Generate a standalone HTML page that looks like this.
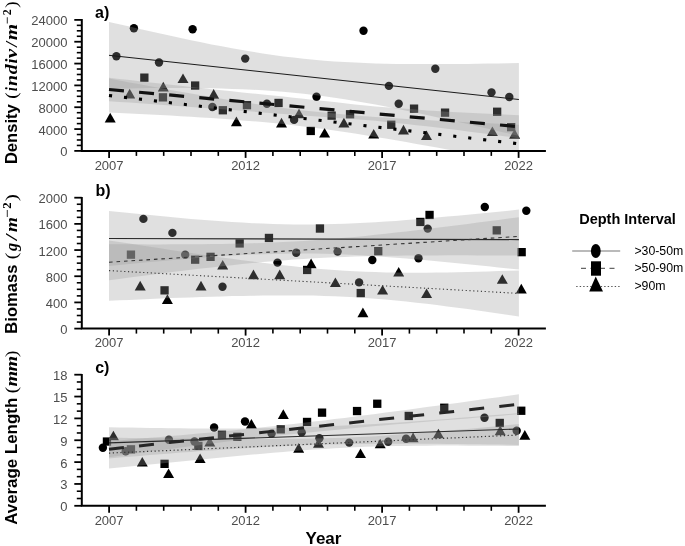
<!DOCTYPE html><html><head><meta charset="utf-8"><style>html,body{margin:0;padding:0;background:#fff;}svg{display:block;}.tk{font-family:"Liberation Sans",Arial,sans-serif;font-size:13px;fill:#4d4d4d;}.pl{font-family:"Liberation Sans",Arial,sans-serif;font-size:16px;font-weight:bold;fill:#000;}.ti{font-family:"Liberation Sans",Arial,sans-serif;font-size:15px;font-weight:bold;fill:#000;}.mi{font-family:"Liberation Serif",serif;font-style:italic;font-weight:bold;}.lg{font-family:"Liberation Sans",Arial,sans-serif;font-size:12.3px;fill:#000;}</style></head><body>
<svg width="685" height="546" viewBox="0 0 685 546">
<rect width="685" height="546" fill="#fff"/>
<clipPath id="cla"><rect x="81.8" y="7.9" width="464.1" height="142.2"/></clipPath>
<g clip-path="url(#cla)">
<circle cx="116.4" cy="56.3" r="4.2" fill="#000"/>
<circle cx="133.9" cy="28.3" r="4.2" fill="#000"/>
<circle cx="159.0" cy="62.5" r="4.2" fill="#000"/>
<circle cx="192.6" cy="29.2" r="4.2" fill="#000"/>
<circle cx="212.4" cy="107.0" r="4.2" fill="#000"/>
<circle cx="245.2" cy="58.6" r="4.2" fill="#000"/>
<circle cx="266.9" cy="103.8" r="4.2" fill="#000"/>
<circle cx="294.1" cy="119.9" r="4.2" fill="#000"/>
<circle cx="316.5" cy="96.8" r="4.2" fill="#000"/>
<circle cx="363.5" cy="30.7" r="4.2" fill="#000"/>
<circle cx="388.9" cy="85.9" r="4.2" fill="#000"/>
<circle cx="398.7" cy="103.8" r="4.2" fill="#000"/>
<circle cx="435.3" cy="68.7" r="4.2" fill="#000"/>
<circle cx="491.5" cy="92.4" r="4.2" fill="#000"/>
<circle cx="509.3" cy="97.0" r="4.2" fill="#000"/>
<rect x="140.2" y="73.5" width="8.3" height="8.3" fill="#000"/>
<rect x="191.0" y="81.4" width="8.3" height="8.3" fill="#000"/>
<rect x="158.8" y="93.2" width="8.3" height="8.3" fill="#000"/>
<rect x="218.7" y="106.1" width="8.3" height="8.3" fill="#000"/>
<rect x="242.8" y="101.0" width="8.3" height="8.3" fill="#000"/>
<rect x="274.4" y="98.8" width="8.3" height="8.3" fill="#000"/>
<rect x="306.6" y="126.8" width="8.3" height="8.3" fill="#000"/>
<rect x="327.5" y="111.5" width="8.3" height="8.3" fill="#000"/>
<rect x="345.9" y="110.1" width="8.3" height="8.3" fill="#000"/>
<rect x="387.1" y="120.6" width="8.3" height="8.3" fill="#000"/>
<rect x="409.9" y="104.5" width="8.3" height="8.3" fill="#000"/>
<rect x="440.9" y="108.5" width="8.3" height="8.3" fill="#000"/>
<rect x="493.0" y="107.6" width="8.3" height="8.3" fill="#000"/>
<rect x="507.0" y="123.0" width="8.3" height="8.3" fill="#000"/>
<path d="M110.2,112.8L115.7,122.4L104.7,122.4Z" fill="#000"/>
<path d="M129.7,88.8L135.2,98.4L124.2,98.4Z" fill="#000"/>
<path d="M163.3,81.8L168.8,91.4L157.8,91.4Z" fill="#000"/>
<path d="M183.0,73.4L188.5,83.0L177.5,83.0Z" fill="#000"/>
<path d="M213.7,89.1L219.2,98.7L208.2,98.7Z" fill="#000"/>
<path d="M236.4,116.6L241.9,126.2L230.9,126.2Z" fill="#000"/>
<path d="M281.5,117.8L287.0,127.4L276.0,127.4Z" fill="#000"/>
<path d="M299.0,108.7L304.5,118.3L293.5,118.3Z" fill="#000"/>
<path d="M324.6,128.0L330.1,137.6L319.1,137.6Z" fill="#000"/>
<path d="M343.9,117.8L349.4,127.4L338.4,127.4Z" fill="#000"/>
<path d="M373.7,128.9L379.2,138.5L368.2,138.5Z" fill="#000"/>
<path d="M403.5,124.8L409.0,134.4L398.0,134.4Z" fill="#000"/>
<path d="M426.5,130.4L432.0,140.0L421.0,140.0Z" fill="#000"/>
<path d="M492.4,126.4L497.9,136.0L486.9,136.0Z" fill="#000"/>
<path d="M514.6,129.1L520.1,138.7L509.1,138.7Z" fill="#000"/>
<path d="M109.0,21.9 L119.2,24.3 L129.5,26.6 L139.7,29.0 L150.0,31.3 L160.2,33.6 L170.5,35.8 L180.7,38.0 L191.0,40.2 L201.2,42.3 L211.5,44.4 L221.7,46.3 L232.0,48.3 L242.2,50.1 L252.5,51.8 L262.7,53.4 L273.0,55.0 L283.2,56.4 L293.5,57.6 L303.7,58.8 L313.9,59.8 L324.2,60.7 L334.4,61.5 L344.7,62.1 L354.9,62.6 L365.2,63.1 L375.4,63.4 L385.7,63.7 L395.9,63.9 L406.2,64.0 L416.4,64.1 L426.7,64.1 L436.9,64.1 L447.2,64.1 L457.4,64.0 L467.7,63.9 L477.9,63.8 L488.2,63.6 L498.4,63.4 L508.7,63.2 L518.9,63.0 L518.9,136.0 L508.7,133.6 L498.4,131.2 L488.2,128.8 L477.9,126.4 L467.7,124.1 L457.4,121.7 L447.2,119.4 L436.9,117.2 L426.7,115.0 L416.4,112.8 L406.2,110.7 L395.9,108.6 L385.7,106.6 L375.4,104.6 L365.2,102.8 L354.9,101.0 L344.7,99.3 L334.4,97.8 L324.2,96.3 L313.9,95.0 L303.7,93.8 L293.5,92.7 L283.2,91.8 L273.0,91.0 L262.7,90.3 L252.5,89.7 L242.2,89.2 L232.0,88.9 L221.7,88.6 L211.5,88.3 L201.2,88.2 L191.0,88.1 L180.7,88.0 L170.5,88.0 L160.2,88.1 L150.0,88.1 L139.7,88.2 L129.5,88.4 L119.2,88.5 L109.0,88.7Z" fill="#999999" fill-opacity="0.30"/>
<path d="M109.0,77.8 L119.2,78.9 L129.5,80.1 L139.7,81.2 L150.0,82.4 L160.2,83.5 L170.5,84.7 L180.7,85.8 L191.0,87.0 L201.2,88.1 L211.5,89.2 L221.7,90.2 L232.0,91.3 L242.2,92.4 L252.5,93.4 L262.7,94.5 L273.0,95.6 L283.2,96.6 L293.5,97.7 L303.7,98.8 L313.9,99.9 L324.2,100.9 L334.4,102.1 L344.7,103.3 L354.9,104.4 L365.2,105.6 L375.4,106.6 L385.7,107.3 L395.9,108.1 L406.2,108.8 L416.4,109.6 L426.7,110.4 L436.9,111.1 L447.2,111.7 L457.4,112.2 L467.7,112.7 L477.9,113.2 L488.2,113.7 L498.4,114.2 L508.7,114.7 L518.9,115.2 L518.9,138.2 L508.7,136.8 L498.4,135.5 L488.2,134.1 L477.9,132.8 L467.7,131.4 L457.4,130.0 L447.2,128.7 L436.9,127.4 L426.7,126.3 L416.4,125.2 L406.2,124.1 L395.9,123.0 L385.7,121.9 L375.4,120.8 L365.2,119.9 L354.9,119.2 L344.7,118.5 L334.4,117.8 L324.2,117.1 L313.9,116.3 L303.7,115.5 L293.5,114.8 L283.2,114.0 L273.0,113.2 L262.7,112.4 L252.5,111.6 L242.2,110.8 L232.0,110.0 L221.7,109.2 L211.5,108.4 L201.2,107.7 L191.0,106.9 L180.7,106.2 L170.5,105.5 L160.2,104.8 L150.0,104.1 L139.7,103.3 L129.5,102.6 L119.2,101.9 L109.0,101.2Z" fill="#999999" fill-opacity="0.30"/>
<path d="M109.0,78.6 L119.2,80.5 L129.5,82.4 L139.7,84.3 L150.0,86.2 L160.2,88.0 L170.5,89.9 L180.7,91.7 L191.0,93.5 L201.2,95.3 L211.5,97.0 L221.7,98.8 L232.0,100.4 L242.2,102.0 L252.5,103.6 L262.7,105.1 L273.0,106.6 L283.2,107.9 L293.5,109.2 L303.7,110.4 L313.9,111.6 L324.2,112.6 L334.4,113.6 L344.7,114.5 L354.9,115.4 L365.2,116.2 L375.4,116.9 L385.7,117.6 L395.9,118.3 L406.2,118.9 L416.4,119.5 L426.7,120.1 L436.9,120.7 L447.2,121.2 L457.4,121.8 L467.7,122.3 L477.9,122.8 L488.2,123.3 L498.4,123.8 L508.7,124.3 L518.9,124.8 L518.9,162.8 L508.7,160.9 L498.4,158.9 L488.2,157.0 L477.9,155.1 L467.7,153.2 L457.4,151.3 L447.2,149.4 L436.9,147.6 L426.7,145.7 L416.4,143.9 L406.2,142.1 L395.9,140.3 L385.7,138.6 L375.4,136.9 L365.2,135.2 L354.9,133.6 L344.7,132.0 L334.4,130.5 L324.2,129.1 L313.9,127.7 L303.7,126.5 L293.5,125.2 L283.2,124.1 L273.0,123.1 L262.7,122.1 L252.5,121.2 L242.2,120.4 L232.0,119.6 L221.7,118.8 L211.5,118.1 L201.2,117.4 L191.0,116.8 L180.7,116.2 L170.5,115.6 L160.2,115.0 L150.0,114.5 L139.7,113.9 L129.5,113.4 L119.2,112.9 L109.0,112.4Z" fill="#999999" fill-opacity="0.30"/>
<line x1="109.0" y1="55.3" x2="518.9" y2="99.5" stroke="#1a1a1a" stroke-width="1.0"/>
<line x1="109.0" y1="89.5" x2="518.9" y2="126.7" stroke="#111" stroke-width="3.2" stroke-dasharray="15 15.2"/>
<line x1="109.0" y1="95.5" x2="518.9" y2="143.8" stroke="#000" stroke-width="3.1" stroke-dasharray="3.1 11.97"/>
</g>
<path d="M81.8,19.1V150.9H545.9" fill="none" stroke="#000" stroke-width="2"/>
<line x1="74.3" y1="150.90" x2="81.8" y2="150.90" stroke="#000" stroke-width="1.8"/>
<text class="tk" x="67.4" y="156.3" text-anchor="end">0</text>
<line x1="76.8" y1="145.44" x2="81.8" y2="145.44" stroke="#000" stroke-width="1.6"/>
<line x1="76.8" y1="139.98" x2="81.8" y2="139.98" stroke="#000" stroke-width="1.6"/>
<line x1="76.8" y1="134.53" x2="81.8" y2="134.53" stroke="#000" stroke-width="1.6"/>
<line x1="74.3" y1="129.07" x2="81.8" y2="129.07" stroke="#000" stroke-width="1.8"/>
<text class="tk" x="67.4" y="134.5" text-anchor="end">4000</text>
<line x1="76.8" y1="123.61" x2="81.8" y2="123.61" stroke="#000" stroke-width="1.6"/>
<line x1="76.8" y1="118.15" x2="81.8" y2="118.15" stroke="#000" stroke-width="1.6"/>
<line x1="76.8" y1="112.69" x2="81.8" y2="112.69" stroke="#000" stroke-width="1.6"/>
<line x1="74.3" y1="107.23" x2="81.8" y2="107.23" stroke="#000" stroke-width="1.8"/>
<text class="tk" x="67.4" y="112.6" text-anchor="end">8000</text>
<line x1="76.8" y1="101.78" x2="81.8" y2="101.78" stroke="#000" stroke-width="1.6"/>
<line x1="76.8" y1="96.32" x2="81.8" y2="96.32" stroke="#000" stroke-width="1.6"/>
<line x1="76.8" y1="90.86" x2="81.8" y2="90.86" stroke="#000" stroke-width="1.6"/>
<line x1="74.3" y1="85.40" x2="81.8" y2="85.40" stroke="#000" stroke-width="1.8"/>
<text class="tk" x="67.4" y="90.8" text-anchor="end">12000</text>
<line x1="76.8" y1="79.94" x2="81.8" y2="79.94" stroke="#000" stroke-width="1.6"/>
<line x1="76.8" y1="74.48" x2="81.8" y2="74.48" stroke="#000" stroke-width="1.6"/>
<line x1="76.8" y1="69.03" x2="81.8" y2="69.03" stroke="#000" stroke-width="1.6"/>
<line x1="74.3" y1="63.57" x2="81.8" y2="63.57" stroke="#000" stroke-width="1.8"/>
<text class="tk" x="67.4" y="69.0" text-anchor="end">16000</text>
<line x1="76.8" y1="58.11" x2="81.8" y2="58.11" stroke="#000" stroke-width="1.6"/>
<line x1="76.8" y1="52.65" x2="81.8" y2="52.65" stroke="#000" stroke-width="1.6"/>
<line x1="76.8" y1="47.19" x2="81.8" y2="47.19" stroke="#000" stroke-width="1.6"/>
<line x1="74.3" y1="41.73" x2="81.8" y2="41.73" stroke="#000" stroke-width="1.8"/>
<text class="tk" x="67.4" y="47.1" text-anchor="end">20000</text>
<line x1="76.8" y1="36.28" x2="81.8" y2="36.28" stroke="#000" stroke-width="1.6"/>
<line x1="76.8" y1="30.82" x2="81.8" y2="30.82" stroke="#000" stroke-width="1.6"/>
<line x1="76.8" y1="25.36" x2="81.8" y2="25.36" stroke="#000" stroke-width="1.6"/>
<line x1="74.3" y1="19.90" x2="81.8" y2="19.90" stroke="#000" stroke-width="1.8"/>
<text class="tk" x="67.4" y="25.3" text-anchor="end">24000</text>
<line x1="109.10" y1="150.9" x2="109.10" y2="157.9" stroke="#000" stroke-width="1.8"/>
<text class="tk" x="109.10" y="169.7" text-anchor="middle">2007</text>
<line x1="136.40" y1="150.9" x2="136.40" y2="155.9" stroke="#000" stroke-width="1.6"/>
<line x1="163.70" y1="150.9" x2="163.70" y2="155.9" stroke="#000" stroke-width="1.6"/>
<line x1="191.00" y1="150.9" x2="191.00" y2="155.9" stroke="#000" stroke-width="1.6"/>
<line x1="218.30" y1="150.9" x2="218.30" y2="155.9" stroke="#000" stroke-width="1.6"/>
<line x1="245.60" y1="150.9" x2="245.60" y2="157.9" stroke="#000" stroke-width="1.8"/>
<text class="tk" x="245.60" y="169.7" text-anchor="middle">2012</text>
<line x1="272.90" y1="150.9" x2="272.90" y2="155.9" stroke="#000" stroke-width="1.6"/>
<line x1="300.20" y1="150.9" x2="300.20" y2="155.9" stroke="#000" stroke-width="1.6"/>
<line x1="327.50" y1="150.9" x2="327.50" y2="155.9" stroke="#000" stroke-width="1.6"/>
<line x1="354.80" y1="150.9" x2="354.80" y2="155.9" stroke="#000" stroke-width="1.6"/>
<line x1="382.10" y1="150.9" x2="382.10" y2="157.9" stroke="#000" stroke-width="1.8"/>
<text class="tk" x="382.10" y="169.7" text-anchor="middle">2017</text>
<line x1="409.40" y1="150.9" x2="409.40" y2="155.9" stroke="#000" stroke-width="1.6"/>
<line x1="436.70" y1="150.9" x2="436.70" y2="155.9" stroke="#000" stroke-width="1.6"/>
<line x1="464.00" y1="150.9" x2="464.00" y2="155.9" stroke="#000" stroke-width="1.6"/>
<line x1="491.30" y1="150.9" x2="491.30" y2="155.9" stroke="#000" stroke-width="1.6"/>
<line x1="518.60" y1="150.9" x2="518.60" y2="157.9" stroke="#000" stroke-width="1.8"/>
<text class="tk" x="518.60" y="169.7" text-anchor="middle">2022</text>
<clipPath id="clb"><rect x="81.8" y="185.7" width="464.1" height="142.1"/></clipPath>
<g clip-path="url(#clb)">
<circle cx="143.4" cy="218.9" r="4.2" fill="#000"/>
<circle cx="172.4" cy="232.9" r="4.2" fill="#000"/>
<circle cx="185.2" cy="254.7" r="4.2" fill="#000"/>
<circle cx="222.5" cy="286.8" r="4.2" fill="#000"/>
<circle cx="277.5" cy="262.6" r="4.2" fill="#000"/>
<circle cx="296.2" cy="252.7" r="4.2" fill="#000"/>
<circle cx="337.6" cy="251.6" r="4.2" fill="#000"/>
<circle cx="359.1" cy="282.4" r="4.2" fill="#000"/>
<circle cx="372.3" cy="260.0" r="4.2" fill="#000"/>
<circle cx="418.5" cy="258.2" r="4.2" fill="#000"/>
<circle cx="427.7" cy="228.6" r="4.2" fill="#000"/>
<circle cx="484.8" cy="207.0" r="4.2" fill="#000"/>
<circle cx="526.3" cy="210.7" r="4.2" fill="#000"/>
<rect x="126.8" y="250.5" width="8.3" height="8.3" fill="#000"/>
<rect x="160.4" y="286.2" width="8.3" height="8.3" fill="#000"/>
<rect x="191.0" y="255.5" width="8.3" height="8.3" fill="#000"/>
<rect x="206.4" y="252.7" width="8.3" height="8.3" fill="#000"/>
<rect x="235.5" y="239.3" width="8.3" height="8.3" fill="#000"/>
<rect x="264.8" y="233.8" width="8.3" height="8.3" fill="#000"/>
<rect x="303.0" y="265.8" width="8.3" height="8.3" fill="#000"/>
<rect x="315.8" y="224.4" width="8.3" height="8.3" fill="#000"/>
<rect x="356.6" y="288.9" width="8.3" height="8.3" fill="#000"/>
<rect x="374.1" y="247.0" width="8.3" height="8.3" fill="#000"/>
<rect x="416.2" y="217.8" width="8.3" height="8.3" fill="#000"/>
<rect x="425.4" y="210.8" width="8.3" height="8.3" fill="#000"/>
<rect x="492.6" y="226.2" width="8.3" height="8.3" fill="#000"/>
<rect x="517.5" y="248.0" width="8.3" height="8.3" fill="#000"/>
<path d="M140.2,280.8L145.7,290.4L134.7,290.4Z" fill="#000"/>
<path d="M167.4,294.3L172.9,303.9L161.9,303.9Z" fill="#000"/>
<path d="M201.0,280.8L206.5,290.4L195.5,290.4Z" fill="#000"/>
<path d="M222.7,259.9L228.2,269.5L217.2,269.5Z" fill="#000"/>
<path d="M253.5,269.6L259.0,279.2L248.0,279.2Z" fill="#000"/>
<path d="M279.7,269.6L285.2,279.2L274.2,279.2Z" fill="#000"/>
<path d="M311.1,258.6L316.6,268.2L305.6,268.2Z" fill="#000"/>
<path d="M335.4,277.5L340.9,287.1L329.9,287.1Z" fill="#000"/>
<path d="M362.9,307.6L368.4,317.2L357.4,317.2Z" fill="#000"/>
<path d="M382.6,284.9L388.1,294.5L377.1,294.5Z" fill="#000"/>
<path d="M398.7,266.9L404.2,276.5L393.2,276.5Z" fill="#000"/>
<path d="M426.6,288.5L432.1,298.1L421.1,298.1Z" fill="#000"/>
<path d="M502.3,274.2L507.8,283.8L496.8,283.8Z" fill="#000"/>
<path d="M521.3,283.8L526.8,293.4L515.8,293.4Z" fill="#000"/>
<path d="M109.0,210.9 L119.2,212.0 L129.5,213.0 L139.7,214.1 L150.0,215.1 L160.2,216.1 L170.5,217.1 L180.7,218.0 L191.0,218.9 L201.2,219.7 L211.5,220.5 L221.7,221.3 L232.0,222.0 L242.2,222.6 L252.5,223.2 L262.7,223.6 L273.0,224.0 L283.2,224.3 L293.5,224.5 L303.7,224.5 L313.9,224.5 L324.2,224.3 L334.4,224.1 L344.7,223.8 L354.9,223.3 L365.2,222.8 L375.4,222.2 L385.7,221.6 L395.9,220.9 L406.2,220.1 L416.4,219.3 L426.7,218.4 L436.9,217.6 L447.2,216.6 L457.4,215.7 L467.7,214.7 L477.9,213.7 L488.2,212.7 L498.4,211.7 L508.7,210.7 L518.9,209.6 L518.9,269.6 L508.7,268.5 L498.4,267.4 L488.2,266.3 L477.9,265.2 L467.7,264.2 L457.4,263.2 L447.2,262.2 L436.9,261.2 L426.7,260.3 L416.4,259.4 L406.2,258.5 L395.9,257.7 L385.7,256.9 L375.4,256.2 L365.2,255.6 L354.9,255.0 L344.7,254.5 L334.4,254.1 L324.2,253.8 L313.9,253.6 L303.7,253.5 L293.5,253.5 L283.2,253.7 L273.0,253.9 L262.7,254.2 L252.5,254.6 L242.2,255.1 L232.0,255.7 L221.7,256.3 L211.5,257.0 L201.2,257.8 L191.0,258.6 L180.7,259.4 L170.5,260.3 L160.2,261.2 L150.0,262.1 L139.7,263.1 L129.5,264.1 L119.2,265.1 L109.0,266.1Z" fill="#999999" fill-opacity="0.30"/>
<path d="M109.0,244.2 L119.2,244.3 L129.5,244.3 L139.7,244.3 L150.0,244.4 L160.2,244.4 L170.5,244.3 L180.7,244.3 L191.0,244.3 L201.2,244.2 L211.5,244.1 L221.7,243.9 L232.0,243.7 L242.2,243.5 L252.5,243.2 L262.7,242.9 L273.0,242.5 L283.2,242.1 L293.5,241.5 L303.7,240.9 L313.9,240.3 L324.2,239.5 L334.4,238.7 L344.7,237.8 L354.9,236.9 L365.2,235.9 L375.4,234.8 L385.7,233.8 L395.9,232.6 L406.2,231.4 L416.4,230.2 L426.7,229.0 L436.9,227.8 L447.2,226.5 L457.4,225.2 L467.7,223.9 L477.9,222.6 L488.2,221.3 L498.4,219.9 L508.7,218.6 L518.9,217.2 L518.9,255.6 L508.7,255.5 L498.4,255.5 L488.2,255.4 L477.9,255.4 L467.7,255.3 L457.4,255.3 L447.2,255.3 L436.9,255.4 L426.7,255.4 L416.4,255.5 L406.2,255.5 L395.9,255.7 L385.7,255.8 L375.4,256.0 L365.2,256.3 L354.9,256.5 L344.7,256.9 L334.4,257.3 L324.2,257.8 L313.9,258.3 L303.7,258.9 L293.5,259.6 L283.2,260.4 L273.0,261.2 L262.7,262.1 L252.5,263.1 L242.2,264.1 L232.0,265.2 L221.7,266.3 L211.5,267.4 L201.2,268.6 L191.0,269.8 L180.7,271.1 L170.5,272.3 L160.2,273.6 L150.0,274.9 L139.7,276.2 L129.5,277.5 L119.2,278.9 L109.0,280.2Z" fill="#999999" fill-opacity="0.30"/>
<path d="M109.0,240.4 L119.2,242.0 L129.5,243.6 L139.7,245.2 L150.0,246.8 L160.2,248.3 L170.5,249.9 L180.7,251.4 L191.0,252.9 L201.2,254.4 L211.5,255.9 L221.7,257.4 L232.0,258.8 L242.2,260.2 L252.5,261.5 L262.7,262.8 L273.0,264.0 L283.2,265.2 L293.5,266.3 L303.7,267.4 L313.9,268.4 L324.2,269.2 L334.4,270.0 L344.7,270.7 L354.9,271.3 L365.2,271.7 L375.4,272.1 L385.7,272.4 L395.9,272.6 L406.2,272.7 L416.4,272.7 L426.7,272.7 L436.9,272.6 L447.2,272.5 L457.4,272.3 L467.7,272.0 L477.9,271.8 L488.2,271.5 L498.4,271.1 L508.7,270.8 L518.9,270.4 L518.9,316.4 L508.7,314.9 L498.4,313.4 L488.2,311.9 L477.9,310.5 L467.7,309.1 L457.4,307.7 L447.2,306.4 L436.9,305.1 L426.7,303.8 L416.4,302.7 L406.2,301.6 L395.9,300.5 L385.7,299.6 L375.4,298.7 L365.2,298.0 L354.9,297.3 L344.7,296.7 L334.4,296.3 L324.2,295.9 L313.9,295.6 L303.7,295.5 L293.5,295.4 L283.2,295.4 L273.0,295.4 L262.7,295.5 L252.5,295.7 L242.2,295.9 L232.0,296.1 L221.7,296.4 L211.5,296.7 L201.2,297.0 L191.0,297.4 L180.7,297.8 L170.5,298.1 L160.2,298.6 L150.0,299.0 L139.7,299.4 L129.5,299.9 L119.2,300.3 L109.0,300.8Z" fill="#999999" fill-opacity="0.30"/>
<line x1="109.0" y1="238.5" x2="518.9" y2="239.6" stroke="#2a2a2a" stroke-width="1.1"/>
<line x1="109.0" y1="262.2" x2="518.9" y2="236.4" stroke="#333" stroke-width="1.1" stroke-dasharray="3.6 3.9"/>
<line x1="109.0" y1="270.6" x2="518.9" y2="293.4" stroke="#3a3a3a" stroke-width="1.1" stroke-dasharray="1.2 2.6"/>
</g>
<path d="M81.8,196.9V328.6H545.9" fill="none" stroke="#000" stroke-width="2"/>
<line x1="74.3" y1="328.60" x2="81.8" y2="328.60" stroke="#000" stroke-width="1.8"/>
<text class="tk" x="67.4" y="334.0" text-anchor="end">0</text>
<line x1="76.8" y1="322.06" x2="81.8" y2="322.06" stroke="#000" stroke-width="1.6"/>
<line x1="76.8" y1="315.51" x2="81.8" y2="315.51" stroke="#000" stroke-width="1.6"/>
<line x1="76.8" y1="308.97" x2="81.8" y2="308.97" stroke="#000" stroke-width="1.6"/>
<line x1="74.3" y1="302.42" x2="81.8" y2="302.42" stroke="#000" stroke-width="1.8"/>
<text class="tk" x="67.4" y="307.8" text-anchor="end">400</text>
<line x1="76.8" y1="295.88" x2="81.8" y2="295.88" stroke="#000" stroke-width="1.6"/>
<line x1="76.8" y1="289.33" x2="81.8" y2="289.33" stroke="#000" stroke-width="1.6"/>
<line x1="76.8" y1="282.79" x2="81.8" y2="282.79" stroke="#000" stroke-width="1.6"/>
<line x1="74.3" y1="276.24" x2="81.8" y2="276.24" stroke="#000" stroke-width="1.8"/>
<text class="tk" x="67.4" y="281.6" text-anchor="end">800</text>
<line x1="76.8" y1="269.69" x2="81.8" y2="269.69" stroke="#000" stroke-width="1.6"/>
<line x1="76.8" y1="263.15" x2="81.8" y2="263.15" stroke="#000" stroke-width="1.6"/>
<line x1="76.8" y1="256.61" x2="81.8" y2="256.61" stroke="#000" stroke-width="1.6"/>
<line x1="74.3" y1="250.06" x2="81.8" y2="250.06" stroke="#000" stroke-width="1.8"/>
<text class="tk" x="67.4" y="255.5" text-anchor="end">1200</text>
<line x1="76.8" y1="243.51" x2="81.8" y2="243.51" stroke="#000" stroke-width="1.6"/>
<line x1="76.8" y1="236.97" x2="81.8" y2="236.97" stroke="#000" stroke-width="1.6"/>
<line x1="76.8" y1="230.43" x2="81.8" y2="230.43" stroke="#000" stroke-width="1.6"/>
<line x1="74.3" y1="223.88" x2="81.8" y2="223.88" stroke="#000" stroke-width="1.8"/>
<text class="tk" x="67.4" y="229.3" text-anchor="end">1600</text>
<line x1="76.8" y1="217.33" x2="81.8" y2="217.33" stroke="#000" stroke-width="1.6"/>
<line x1="76.8" y1="210.79" x2="81.8" y2="210.79" stroke="#000" stroke-width="1.6"/>
<line x1="76.8" y1="204.25" x2="81.8" y2="204.25" stroke="#000" stroke-width="1.6"/>
<line x1="74.3" y1="197.70" x2="81.8" y2="197.70" stroke="#000" stroke-width="1.8"/>
<text class="tk" x="67.4" y="203.1" text-anchor="end">2000</text>
<line x1="109.10" y1="328.6" x2="109.10" y2="335.6" stroke="#000" stroke-width="1.8"/>
<text class="tk" x="109.10" y="347.4" text-anchor="middle">2007</text>
<line x1="136.40" y1="328.6" x2="136.40" y2="333.6" stroke="#000" stroke-width="1.6"/>
<line x1="163.70" y1="328.6" x2="163.70" y2="333.6" stroke="#000" stroke-width="1.6"/>
<line x1="191.00" y1="328.6" x2="191.00" y2="333.6" stroke="#000" stroke-width="1.6"/>
<line x1="218.30" y1="328.6" x2="218.30" y2="333.6" stroke="#000" stroke-width="1.6"/>
<line x1="245.60" y1="328.6" x2="245.60" y2="335.6" stroke="#000" stroke-width="1.8"/>
<text class="tk" x="245.60" y="347.4" text-anchor="middle">2012</text>
<line x1="272.90" y1="328.6" x2="272.90" y2="333.6" stroke="#000" stroke-width="1.6"/>
<line x1="300.20" y1="328.6" x2="300.20" y2="333.6" stroke="#000" stroke-width="1.6"/>
<line x1="327.50" y1="328.6" x2="327.50" y2="333.6" stroke="#000" stroke-width="1.6"/>
<line x1="354.80" y1="328.6" x2="354.80" y2="333.6" stroke="#000" stroke-width="1.6"/>
<line x1="382.10" y1="328.6" x2="382.10" y2="335.6" stroke="#000" stroke-width="1.8"/>
<text class="tk" x="382.10" y="347.4" text-anchor="middle">2017</text>
<line x1="409.40" y1="328.6" x2="409.40" y2="333.6" stroke="#000" stroke-width="1.6"/>
<line x1="436.70" y1="328.6" x2="436.70" y2="333.6" stroke="#000" stroke-width="1.6"/>
<line x1="464.00" y1="328.6" x2="464.00" y2="333.6" stroke="#000" stroke-width="1.6"/>
<line x1="491.30" y1="328.6" x2="491.30" y2="333.6" stroke="#000" stroke-width="1.6"/>
<line x1="518.60" y1="328.6" x2="518.60" y2="335.6" stroke="#000" stroke-width="1.8"/>
<text class="tk" x="518.60" y="347.4" text-anchor="middle">2022</text>
<clipPath id="clc"><rect x="81.8" y="362.7" width="464.1" height="142.3"/></clipPath>
<g clip-path="url(#clc)">
<circle cx="102.9" cy="447.7" r="4.2" fill="#000"/>
<circle cx="125.7" cy="451.2" r="4.2" fill="#000"/>
<circle cx="168.9" cy="439.8" r="4.2" fill="#000"/>
<circle cx="194.5" cy="441.5" r="4.2" fill="#000"/>
<circle cx="214.1" cy="427.5" r="4.2" fill="#000"/>
<circle cx="245.0" cy="421.5" r="4.2" fill="#000"/>
<circle cx="271.6" cy="433.6" r="4.2" fill="#000"/>
<circle cx="301.7" cy="432.4" r="4.2" fill="#000"/>
<circle cx="319.4" cy="438.2" r="4.2" fill="#000"/>
<circle cx="349.2" cy="442.6" r="4.2" fill="#000"/>
<circle cx="388.2" cy="441.7" r="4.2" fill="#000"/>
<circle cx="406.1" cy="438.7" r="4.2" fill="#000"/>
<circle cx="484.5" cy="417.7" r="4.2" fill="#000"/>
<circle cx="516.7" cy="430.8" r="4.2" fill="#000"/>
<rect x="102.8" y="437.4" width="8.3" height="8.3" fill="#000"/>
<rect x="126.8" y="445.2" width="8.3" height="8.3" fill="#000"/>
<rect x="160.4" y="459.7" width="8.3" height="8.3" fill="#000"/>
<rect x="194.2" y="441.8" width="8.3" height="8.3" fill="#000"/>
<rect x="217.8" y="430.6" width="8.3" height="8.3" fill="#000"/>
<rect x="233.2" y="432.7" width="8.3" height="8.3" fill="#000"/>
<rect x="276.6" y="425.2" width="8.3" height="8.3" fill="#000"/>
<rect x="302.9" y="417.8" width="8.3" height="8.3" fill="#000"/>
<rect x="317.9" y="408.5" width="8.3" height="8.3" fill="#000"/>
<rect x="352.9" y="406.9" width="8.3" height="8.3" fill="#000"/>
<rect x="373.1" y="399.6" width="8.3" height="8.3" fill="#000"/>
<rect x="404.6" y="411.8" width="8.3" height="8.3" fill="#000"/>
<rect x="440.1" y="403.6" width="8.3" height="8.3" fill="#000"/>
<rect x="495.6" y="418.8" width="8.3" height="8.3" fill="#000"/>
<rect x="517.1" y="406.6" width="8.3" height="8.3" fill="#000"/>
<path d="M113.4,430.7L118.9,440.3L107.9,440.3Z" fill="#000"/>
<path d="M142.3,457.0L147.8,466.6L136.8,466.6Z" fill="#000"/>
<path d="M168.6,468.4L174.1,478.0L163.1,478.0Z" fill="#000"/>
<path d="M200.1,453.4L205.6,463.0L194.6,463.0Z" fill="#000"/>
<path d="M209.8,436.8L215.3,446.4L204.3,446.4Z" fill="#000"/>
<path d="M251.4,418.9L256.9,428.5L245.9,428.5Z" fill="#000"/>
<path d="M283.3,409.3L288.8,418.9L277.8,418.9Z" fill="#000"/>
<path d="M298.7,443.1L304.2,452.7L293.2,452.7Z" fill="#000"/>
<path d="M318.5,438.2L324.0,447.8L313.0,447.8Z" fill="#000"/>
<path d="M360.5,448.4L366.0,458.0L355.0,458.0Z" fill="#000"/>
<path d="M380.2,438.7L385.7,448.3L374.7,448.3Z" fill="#000"/>
<path d="M413.1,432.6L418.6,442.2L407.6,442.2Z" fill="#000"/>
<path d="M438.4,428.7L443.9,438.3L432.9,438.3Z" fill="#000"/>
<path d="M500.2,425.6L505.7,435.2L494.7,435.2Z" fill="#000"/>
<path d="M524.8,430.1L530.3,439.7L519.3,439.7Z" fill="#000"/>
<path d="M109.0,427.3 L119.2,427.5 L129.5,427.6 L139.7,427.8 L150.0,427.9 L160.2,428.1 L170.5,428.2 L180.7,428.3 L191.0,428.4 L201.2,428.4 L211.5,428.5 L221.7,428.5 L232.0,428.5 L242.2,428.4 L252.5,428.3 L262.7,428.2 L273.0,428.0 L283.2,427.8 L293.5,427.6 L303.7,427.3 L313.9,426.9 L324.2,426.6 L334.4,426.1 L344.7,425.6 L354.9,425.1 L365.2,424.6 L375.4,424.0 L385.7,423.3 L395.9,422.7 L406.2,422.0 L416.4,421.2 L426.7,420.5 L436.9,419.7 L447.2,418.9 L457.4,418.1 L467.7,417.3 L477.9,416.5 L488.2,415.6 L498.4,414.8 L508.7,413.9 L518.9,413.0 L518.9,445.0 L508.7,444.8 L498.4,444.6 L488.2,444.5 L477.9,444.3 L467.7,444.2 L457.4,444.1 L447.2,443.9 L436.9,443.8 L426.7,443.8 L416.4,443.7 L406.2,443.7 L395.9,443.7 L385.7,443.7 L375.4,443.8 L365.2,443.9 L354.9,444.0 L344.7,444.2 L334.4,444.4 L324.2,444.6 L313.9,445.0 L303.7,445.3 L293.5,445.7 L283.2,446.2 L273.0,446.6 L262.7,447.2 L252.5,447.7 L242.2,448.4 L232.0,449.0 L221.7,449.7 L211.5,450.4 L201.2,451.1 L191.0,451.9 L180.7,452.6 L170.5,453.4 L160.2,454.2 L150.0,455.1 L139.7,455.9 L129.5,456.8 L119.2,457.6 L109.0,458.5Z" fill="#999999" fill-opacity="0.30"/>
<path d="M109.0,441.2 L119.2,440.4 L129.5,439.5 L139.7,438.7 L150.0,437.8 L160.2,436.9 L170.5,436.1 L180.7,435.2 L191.0,434.2 L201.2,433.3 L211.5,432.4 L221.7,431.4 L232.0,430.4 L242.2,429.4 L252.5,428.4 L262.7,427.3 L273.0,426.2 L283.2,425.1 L293.5,424.0 L303.7,422.8 L313.9,421.6 L324.2,420.4 L334.4,419.1 L344.7,417.9 L354.9,416.6 L365.2,415.3 L375.4,413.9 L385.7,412.6 L395.9,411.2 L406.2,409.9 L416.4,408.5 L426.7,407.1 L436.9,405.7 L447.2,404.3 L457.4,402.9 L467.7,401.5 L477.9,400.0 L488.2,398.6 L498.4,397.2 L508.7,395.7 L518.9,394.3 L518.9,414.3 L508.7,415.1 L498.4,415.9 L488.2,416.7 L477.9,417.5 L467.7,418.4 L457.4,419.2 L447.2,420.0 L436.9,420.8 L426.7,421.7 L416.4,422.5 L406.2,423.4 L395.9,424.3 L385.7,425.2 L375.4,426.1 L365.2,427.0 L354.9,427.9 L344.7,428.9 L334.4,429.9 L324.2,430.9 L313.9,431.9 L303.7,432.9 L293.5,434.0 L283.2,435.1 L273.0,436.2 L262.7,437.4 L252.5,438.6 L242.2,439.8 L232.0,441.0 L221.7,442.3 L211.5,443.6 L201.2,444.9 L191.0,446.2 L180.7,447.5 L170.5,448.9 L160.2,450.2 L150.0,451.6 L139.7,453.0 L129.5,454.4 L119.2,455.8 L109.0,457.2Z" fill="#999999" fill-opacity="0.30"/>
<path d="M109.0,437.7 L119.2,437.8 L129.5,437.9 L139.7,438.1 L150.0,438.2 L160.2,438.3 L170.5,438.4 L180.7,438.5 L191.0,438.6 L201.2,438.7 L211.5,438.7 L221.7,438.8 L232.0,438.9 L242.2,438.9 L252.5,438.9 L262.7,438.9 L273.0,438.9 L283.2,438.9 L293.5,438.8 L303.7,438.7 L313.9,438.5 L324.2,438.3 L334.4,438.0 L344.7,437.7 L354.9,437.2 L365.2,436.7 L375.4,436.2 L385.7,435.5 L395.9,434.8 L406.2,434.1 L416.4,433.3 L426.7,432.5 L436.9,431.6 L447.2,430.7 L457.4,429.8 L467.7,428.9 L477.9,427.9 L488.2,426.9 L498.4,426.0 L508.7,425.0 L518.9,424.0 L518.9,446.0 L508.7,445.9 L498.4,445.8 L488.2,445.8 L477.9,445.7 L467.7,445.7 L457.4,445.6 L447.2,445.6 L436.9,445.6 L426.7,445.7 L416.4,445.7 L406.2,445.9 L395.9,446.0 L385.7,446.2 L375.4,446.5 L365.2,446.8 L354.9,447.2 L344.7,447.7 L334.4,448.3 L324.2,448.9 L313.9,449.6 L303.7,450.3 L293.5,451.1 L283.2,451.9 L273.0,452.8 L262.7,453.7 L252.5,454.6 L242.2,455.5 L232.0,456.5 L221.7,457.4 L211.5,458.4 L201.2,459.4 L191.0,460.4 L180.7,461.4 L170.5,462.4 L160.2,463.4 L150.0,464.4 L139.7,465.4 L129.5,466.4 L119.2,467.5 L109.0,468.5Z" fill="#999999" fill-opacity="0.30"/>
<line x1="109.0" y1="442.9" x2="518.9" y2="429.0" stroke="#2a2a2a" stroke-width="1.1"/>
<line x1="109.0" y1="449.2" x2="518.9" y2="404.3" stroke="#262626" stroke-width="3.0" stroke-dasharray="15 15.2"/>
<line x1="109.0" y1="453.1" x2="518.9" y2="435.0" stroke="#333" stroke-width="1.2" stroke-dasharray="1.2 2.6"/>
</g>
<path d="M81.8,373.9V505.8H545.9" fill="none" stroke="#000" stroke-width="2"/>
<line x1="74.3" y1="505.80" x2="81.8" y2="505.80" stroke="#000" stroke-width="1.8"/>
<text class="tk" x="67.4" y="511.2" text-anchor="end">0</text>
<line x1="76.8" y1="498.52" x2="81.8" y2="498.52" stroke="#000" stroke-width="1.6"/>
<line x1="76.8" y1="491.23" x2="81.8" y2="491.23" stroke="#000" stroke-width="1.6"/>
<line x1="74.3" y1="483.95" x2="81.8" y2="483.95" stroke="#000" stroke-width="1.8"/>
<text class="tk" x="67.4" y="489.3" text-anchor="end">3</text>
<line x1="76.8" y1="476.67" x2="81.8" y2="476.67" stroke="#000" stroke-width="1.6"/>
<line x1="76.8" y1="469.38" x2="81.8" y2="469.38" stroke="#000" stroke-width="1.6"/>
<line x1="74.3" y1="462.10" x2="81.8" y2="462.10" stroke="#000" stroke-width="1.8"/>
<text class="tk" x="67.4" y="467.5" text-anchor="end">6</text>
<line x1="76.8" y1="454.82" x2="81.8" y2="454.82" stroke="#000" stroke-width="1.6"/>
<line x1="76.8" y1="447.53" x2="81.8" y2="447.53" stroke="#000" stroke-width="1.6"/>
<line x1="74.3" y1="440.25" x2="81.8" y2="440.25" stroke="#000" stroke-width="1.8"/>
<text class="tk" x="67.4" y="445.6" text-anchor="end">9</text>
<line x1="76.8" y1="432.97" x2="81.8" y2="432.97" stroke="#000" stroke-width="1.6"/>
<line x1="76.8" y1="425.68" x2="81.8" y2="425.68" stroke="#000" stroke-width="1.6"/>
<line x1="74.3" y1="418.40" x2="81.8" y2="418.40" stroke="#000" stroke-width="1.8"/>
<text class="tk" x="67.4" y="423.8" text-anchor="end">12</text>
<line x1="76.8" y1="411.12" x2="81.8" y2="411.12" stroke="#000" stroke-width="1.6"/>
<line x1="76.8" y1="403.83" x2="81.8" y2="403.83" stroke="#000" stroke-width="1.6"/>
<line x1="74.3" y1="396.55" x2="81.8" y2="396.55" stroke="#000" stroke-width="1.8"/>
<text class="tk" x="67.4" y="401.9" text-anchor="end">15</text>
<line x1="76.8" y1="389.27" x2="81.8" y2="389.27" stroke="#000" stroke-width="1.6"/>
<line x1="76.8" y1="381.98" x2="81.8" y2="381.98" stroke="#000" stroke-width="1.6"/>
<line x1="74.3" y1="374.70" x2="81.8" y2="374.70" stroke="#000" stroke-width="1.8"/>
<text class="tk" x="67.4" y="380.1" text-anchor="end">18</text>
<line x1="109.10" y1="505.8" x2="109.10" y2="512.8" stroke="#000" stroke-width="1.8"/>
<text class="tk" x="109.10" y="524.6" text-anchor="middle">2007</text>
<line x1="136.40" y1="505.8" x2="136.40" y2="510.8" stroke="#000" stroke-width="1.6"/>
<line x1="163.70" y1="505.8" x2="163.70" y2="510.8" stroke="#000" stroke-width="1.6"/>
<line x1="191.00" y1="505.8" x2="191.00" y2="510.8" stroke="#000" stroke-width="1.6"/>
<line x1="218.30" y1="505.8" x2="218.30" y2="510.8" stroke="#000" stroke-width="1.6"/>
<line x1="245.60" y1="505.8" x2="245.60" y2="512.8" stroke="#000" stroke-width="1.8"/>
<text class="tk" x="245.60" y="524.6" text-anchor="middle">2012</text>
<line x1="272.90" y1="505.8" x2="272.90" y2="510.8" stroke="#000" stroke-width="1.6"/>
<line x1="300.20" y1="505.8" x2="300.20" y2="510.8" stroke="#000" stroke-width="1.6"/>
<line x1="327.50" y1="505.8" x2="327.50" y2="510.8" stroke="#000" stroke-width="1.6"/>
<line x1="354.80" y1="505.8" x2="354.80" y2="510.8" stroke="#000" stroke-width="1.6"/>
<line x1="382.10" y1="505.8" x2="382.10" y2="512.8" stroke="#000" stroke-width="1.8"/>
<text class="tk" x="382.10" y="524.6" text-anchor="middle">2017</text>
<line x1="409.40" y1="505.8" x2="409.40" y2="510.8" stroke="#000" stroke-width="1.6"/>
<line x1="436.70" y1="505.8" x2="436.70" y2="510.8" stroke="#000" stroke-width="1.6"/>
<line x1="464.00" y1="505.8" x2="464.00" y2="510.8" stroke="#000" stroke-width="1.6"/>
<line x1="491.30" y1="505.8" x2="491.30" y2="510.8" stroke="#000" stroke-width="1.6"/>
<line x1="518.60" y1="505.8" x2="518.60" y2="512.8" stroke="#000" stroke-width="1.8"/>
<text class="tk" x="518.60" y="524.6" text-anchor="middle">2022</text>
<text class="pl" x="95.1" y="17.6">a)</text>
<text class="pl" x="95.6" y="195.6">b)</text>
<text class="pl" x="95.2" y="373.3">c)</text>
<text class="ti" style="font-size:16.6px" transform="translate(16.90,164.11) rotate(-90)">Density</text>
<text style="font-family:'Liberation Serif',serif;font-weight:normal;font-style:normal;font-size:17.5px" transform="translate(17.40,98.66) rotate(-90) scale(1.112,1)">(</text>
<text style="font-family:'Liberation Serif',serif;font-weight:bold;font-style:italic;font-size:16.3px" transform="translate(16.80,91.05) rotate(-90) scale(0.841,1)">i</text>
<text style="font-family:'Liberation Serif',serif;font-weight:bold;font-style:italic;font-size:16.3px" transform="translate(16.80,86.10) rotate(-90) scale(1.210,1)">n</text>
<text style="font-family:'Liberation Serif',serif;font-weight:bold;font-style:italic;font-size:16.3px" transform="translate(16.80,74.33) rotate(-90) scale(1.214,1)">d</text>
<text style="font-family:'Liberation Serif',serif;font-weight:bold;font-style:italic;font-size:16.3px" transform="translate(16.80,63.55) rotate(-90) scale(1.088,1)">i</text>
<text style="font-family:'Liberation Serif',serif;font-weight:bold;font-style:italic;font-size:16.3px" transform="translate(16.80,58.29) rotate(-90) scale(1.287,1)">v</text>
<text style="font-family:'Liberation Serif',serif;font-weight:bold;font-style:italic;font-size:16.3px" transform="translate(16.80,46.65) rotate(-90) scale(1.064,1)">/</text>
<text style="font-family:'Liberation Serif',serif;font-weight:bold;font-style:italic;font-size:16.3px" transform="translate(16.80,40.20) rotate(-90) scale(1.294,1)">m</text>
<text style="font-family:'Liberation Serif',serif;font-weight:bold;font-style:normal;font-size:12.0px" transform="translate(11.00,24.01) rotate(-90) scale(1.129,1)">−</text>
<text style="font-family:'Liberation Serif',serif;font-weight:bold;font-style:normal;font-size:12.0px" transform="translate(11.00,15.30) rotate(-90) scale(0.984,1)">2</text>
<text style="font-family:'Liberation Serif',serif;font-weight:normal;font-style:normal;font-size:17.5px" transform="translate(17.40,7.71) rotate(-90) scale(1.090,1)">)</text>
<text class="ti" style="font-size:16.6px" transform="translate(16.90,333.71) rotate(-90)">Biomass</text>
<text style="font-family:'Liberation Serif',serif;font-weight:normal;font-style:normal;font-size:17.5px" transform="translate(17.40,259.27) rotate(-90) scale(1.135,1)">(</text>
<text style="font-family:'Liberation Serif',serif;font-weight:bold;font-style:italic;font-size:16.3px" transform="translate(16.80,251.00) rotate(-90) scale(0.997,1)">g</text>
<text style="font-family:'Liberation Serif',serif;font-weight:bold;font-style:italic;font-size:16.3px" transform="translate(16.80,240.12) rotate(-90) scale(1.197,1)">/</text>
<text style="font-family:'Liberation Serif',serif;font-weight:bold;font-style:italic;font-size:16.3px" transform="translate(16.80,232.06) rotate(-90) scale(1.174,1)">m</text>
<text style="font-family:'Liberation Serif',serif;font-weight:bold;font-style:normal;font-size:12.0px" transform="translate(11.00,217.57) rotate(-90) scale(1.219,1)">−</text>
<text style="font-family:'Liberation Serif',serif;font-weight:bold;font-style:normal;font-size:12.0px" transform="translate(11.00,208.64) rotate(-90) scale(1.064,1)">2</text>
<text style="font-family:'Liberation Serif',serif;font-weight:normal;font-style:normal;font-size:17.5px" transform="translate(17.40,201.29) rotate(-90) scale(1.224,1)">)</text>
<text class="ti" style="font-size:16.9px" transform="translate(16.90,524.82) rotate(-90)">Average Length</text>
<text style="font-family:'Liberation Serif',serif;font-weight:normal;font-style:normal;font-size:17.5px" transform="translate(17.40,393.24) rotate(-90) scale(1.090,1)">(</text>
<text style="font-family:'Liberation Serif',serif;font-weight:bold;font-style:italic;font-size:16.3px" transform="translate(16.80,386.38) rotate(-90) scale(1.234,1)">m</text>
<text style="font-family:'Liberation Serif',serif;font-weight:bold;font-style:italic;font-size:16.3px" transform="translate(16.80,371.58) rotate(-90) scale(1.234,1)">m</text>
<text style="font-family:'Liberation Serif',serif;font-weight:normal;font-style:normal;font-size:17.5px" transform="translate(17.40,357.01) rotate(-90) scale(1.090,1)">)</text>
<text class="pl" x="305.5" y="543.6" style="font-size:17px">Year</text>
<text class="pl" x="579.2" y="223.9" style="font-size:14.5px">Depth Interval</text>
<line x1="572.2" y1="251" x2="620.2" y2="251" stroke="#777" stroke-width="1.1"/>
<ellipse cx="595.8" cy="251" rx="4.9" ry="6.9" fill="#000"/>
<line x1="581" y1="268.4" x2="614.5" y2="268.4" stroke="#666" stroke-width="1.1" stroke-dasharray="5 4.5"/>
<rect x="591" y="261.3" width="10" height="14.4" fill="#000"/>
<line x1="576.2" y1="286.5" x2="620.5" y2="286.5" stroke="#555" stroke-width="1.2" stroke-dasharray="1.4 2.1"/>
<path d="M595.7,276.4L603,291.5L589.2,291.5Z" fill="#000"/>
<text class="lg" x="634.4" y="254.5">&gt;30-50m</text>
<text class="lg" x="634.4" y="272.0">&gt;50-90m</text>
<text class="lg" x="634.4" y="289.6">&gt;90m</text>
</svg></body></html>
